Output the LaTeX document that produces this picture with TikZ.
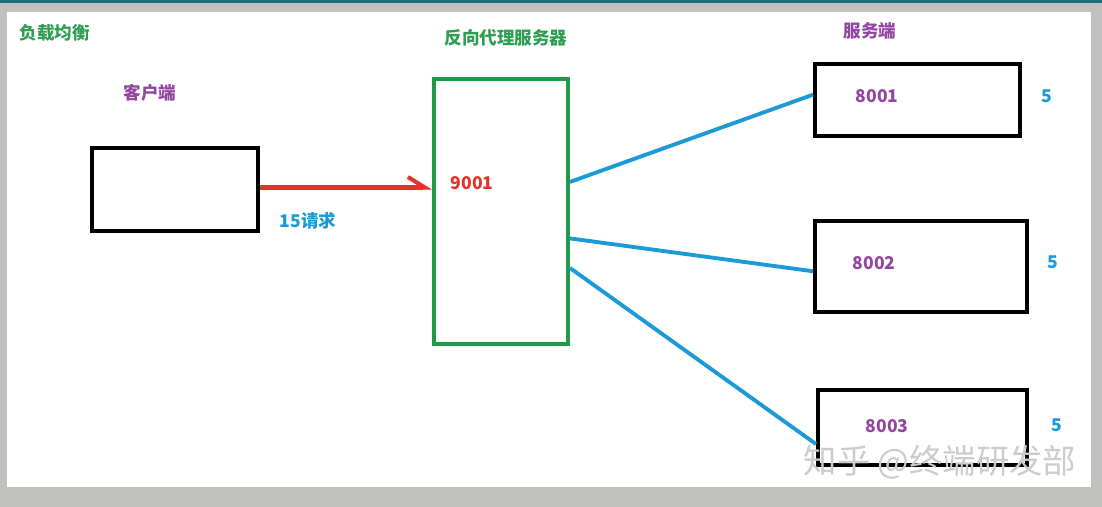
\documentclass[tikz,border=0pt]{standalone}
\usepackage{fontspec}
\setmainfont{Noto Sans CJK SC}
\usetikzlibrary{arrows.meta,calc}
\definecolor{framegray}{HTML}{C0C1BF}
\definecolor{stripe}{HTML}{1D6F7C}
\definecolor{titlegreen}{HTML}{2E9E52}
\definecolor{boxgreen}{HTML}{1F9A48}
\definecolor{labelpurple}{HTML}{9346A0}
\definecolor{reqred}{HTML}{E8302A}
\definecolor{linkblue}{HTML}{1B9AD6}
\tikzset{
  box/.style={draw, line width=2.3pt, inner sep=0pt},
  lbl/.style={font=\fontsize{10}{12}\selectfont\bfseries, inner sep=0pt},
  link/.style={draw=linkblue, line width=2.2pt}
}
\begin{document}
\begin{tikzpicture}[x=0.02cm, y=-0.02cm]
		% frame of the screenshot
		\fill[framegray] (0,0) rectangle (1102,507);
		\fill[stripe] (0,0) rectangle (1102,3);
		\fill[white] (7,12) rectangle (1091,487);
		% boxes
		\node[box, minimum width=3.32cm, minimum height=1.66cm] (client) at (175,189.5) {};
		\node[box, draw=boxgreen, minimum width=2.68cm, minimum height=5.3cm] (proxy) at (501,211.5) {};
		\node[box, minimum width=4.1cm, minimum height=1.44cm] (s1) at (917.5,100) {};
		\node[box, minimum width=4.24cm, minimum height=1.82cm] (s2) at (921,266.5) {};
		\node[box, minimum width=4.18cm, minimum height=1.5cm] (s3) at (922.5,427.5) {};
		% texts
		\node[lbl, text=titlegreen] (title) at (55,33) {负载均衡};
		\node[lbl, text=labelpurple] (clientlbl) at (150,93) {客户端};
		\node[lbl, text=titlegreen] (proxylbl) at (506,38) {反向代理服务器};
		\node[lbl, text=labelpurple] (serverlbl) at (870,31) {服务端};
		\node[lbl, text=reqred] (port) at (472,183) {9001};
		\node[lbl, text=linkblue] (req) at (308,221) {15请求};
		\node[lbl, text=labelpurple] (p1) at (877,96) {8001};
		\node[lbl, text=labelpurple] (p2) at (874,263) {8002};
		\node[lbl, text=labelpurple] (p3) at (887,426) {8003};
		\node[lbl, text=linkblue] (w1) at (1047,96) {5};
		\node[lbl, text=linkblue] (w2) at (1053,262) {5};
		\node[lbl, text=linkblue] (w3) at (1057,425) {5};
		% connectors
		\draw[draw=reqred, line width=2.3pt, -{Straight Barb[harpoon, length=0.34cm, width=0.42cm, line width=2.3pt]}] ([yshift=0.04cm]client.east) to ([yshift=0.04cm]proxy.west |- client.east);
		\draw[link] ($(proxy.north east)!0.39!(proxy.south east)$) to ($(s1.north west)!0.43!(s1.south west)$);
		\draw[link] ($(proxy.north east)!0.60!(proxy.south east)$) to ($(s2.north west)!0.55!(s2.south west)$);
		\draw[link] ($(proxy.north east)!0.71!(proxy.south east)$) to ($(s3.north west)!0.71!(s3.south west)$);
		% watermark
		\node[font=\fontsize{19}{22}\selectfont, text=gray!40] (mark) at (940,462) {知乎 @终端研发部};
	\end{tikzpicture}
\end{document}
